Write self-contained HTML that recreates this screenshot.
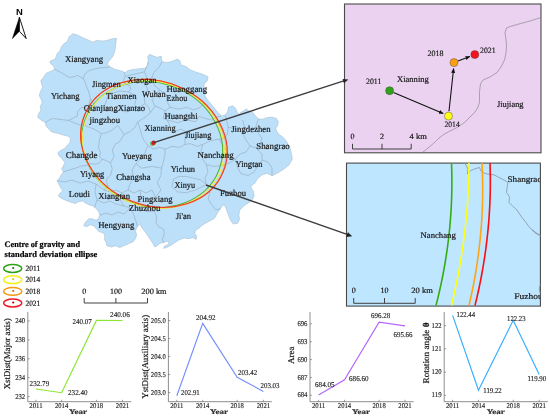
<!DOCTYPE html>
<html><head><meta charset="utf-8"><title>Centre of gravity and standard deviation ellipse</title>
<style>
html,body{margin:0;padding:0;background:#fff;}
svg{display:block;font-family:"Liberation Serif", serif;text-rendering:geometricPrecision;}
</style></head>
<body>
<svg width="550" height="416" viewBox="0 0 550 416">
<rect width="550" height="416" fill="#fff"/>
<polygon points="72.7,33.7 77.3,35 82.7,37.7 88.2,39.9 92.7,42.3 96.4,40.5 102.7,41 106.4,40.6 111.5,38.9 116.5,38.3 115.9,42.7 115.3,47.8 114.6,52.3 112.1,57.4 108.3,61.8 107.6,64.4 110.2,66.9 115.3,69.4 120.4,70.7 125.4,72.6 127.4,70.7 133.1,69.4 139.4,68.8 144.5,68.2 147.7,66.3 148.3,61.8 147.7,56.7 149.6,54.2 153.4,56.1 157.3,57.4 161.1,56.1 161.7,59.9 162.3,61.8 166.2,62.4 170.9,61.8 177.3,59.1 180,60.9 180.9,65.5 182.3,65.2 186.3,66.7 190.2,69.8 194.1,71.4 198.8,73 203.4,74.5 208.1,76.9 207.3,80.8 204.2,83.9 203.4,88.6 205.8,91.7 205,95.6 207.3,99.5 210.5,103.4 213.6,107.3 217.5,112 221.4,115.9 225.3,115.2 227.7,111.3 228.4,107.3 232.3,105.8 235.5,108.1 237,112 238.5,114.5 240.5,112.4 243.9,110.7 246.5,108.8 248.4,110.7 252.8,112.6 255.4,115.8 258.5,119 262.4,119.2 266.8,117.7 271.9,117.1 276.3,118.4 278.3,121.5 277.6,125.4 275.7,128.5 277,131.7 279.5,134.9 283.3,137.4 285.9,140.6 288.4,144.4 290.3,148.9 291.6,154.5 292.3,159 289,164.9 283,169.7 277,173.3 272,175.7 267.3,173.3 263,174.5 261.2,175.5 257.3,178.8 254.8,183.3 251.6,185.2 251,187.7 253.5,191.5 254.2,196 252.3,199.8 249.1,202.4 245.3,204.9 242.1,207.4 239.5,210.6 238.9,215.1 239.5,219.5 237.6,223.3 233.2,224 230.6,220.2 228.7,215.7 226.8,210.6 224.9,205.5 223,204.9 220.4,208.7 217.3,213.2 214.5,218.2 209.1,221.3 205,223.4 201.2,226 198.6,228.5 195.4,230.4 194.8,233.6 196.7,236.2 196.1,239.4 192.9,237.4 189.1,238.7 184,238.1 178.9,240 175.1,242.5 171.3,245.1 166.8,247.6 163.6,248.3 164.3,246.3 167.4,245.1 169.4,242.5 167.4,241.3 163.6,242.5 159.8,243.2 157.3,245.7 154.7,247 152.8,243.2 150.3,239.4 147.7,235.5 144.5,231.1 143,229 141.8,227.9 140.5,224.1 137.3,226.6 135.4,231.1 136.7,234.9 135.4,238.7 132.9,241.9 128.4,243.8 124,245.7 119.5,247.6 115.7,245.7 111.3,247 106.8,245.7 106.2,242.5 104.3,239.4 104.9,236.2 103.6,233 99.2,231.7 96.6,229.2 94.1,226 90.3,224.7 87.1,226.6 83.9,226 84.5,223.4 87.1,220.3 89.6,218.4 92.8,219 96,220.3 98.5,218.4 99.8,215.2 98.5,211.4 96,208.2 92.8,205.8 90.8,205.4 86.3,203.5 82.5,201 78.7,201.6 75.5,203.5 71.1,202.3 66,200.4 61.5,198.4 58.4,195.9 59.6,193.4 62.8,190.8 60.9,188.3 59,184.5 57.1,180.5 59.1,178.9 61,175.1 63.5,171.9 61.6,168.7 63.5,165.5 64.8,162.4 62.3,159.2 59.1,156 57.8,152.8 61,150.3 64.8,148.4 67.4,145.2 69.9,142.6 70.5,138.8 68.3,136.3 63.2,135.1 57.4,133.2 51.7,131.9 48.5,128.7 46,126.2 45.4,122.4 41.5,120.4 37.7,117.3 38.4,114.1 40.9,110.3 40.3,106.5 42.2,102.6 40.9,98.8 39,95 39.5,94.5 40.8,90.7 42.7,86.9 41.5,83.7 40.8,80.5 43.4,77.4 45.9,73.5 48.4,72.3 51.6,71 54.8,69.1 53.5,65.9 51,64 49.7,61.5 52.3,60.2 55.4,58.9 56.1,56.4 57.4,53.2 60.5,50 61,47.5 63.6,44.1 67.3,41.4 69.1,36.8" fill="#bce0fa" stroke="#9fb4c6" stroke-width="0.5" stroke-linejoin="round"/>
<polyline points="54.8,69.1 58,71 61.8,72.9 65.6,75.4 69.4,77.4 73.9,76.7 77.7,75.4 80.9,77.4 83.4,78.6" fill="none" stroke="#8d9dad" stroke-width="0.5" stroke-linejoin="round"/>
<polyline points="83.4,78.6 85.3,83.1 87.3,88.2 89.2,93.3 90.5,99 88.9,104.5 85.5,107" fill="none" stroke="#8d9dad" stroke-width="0.5" stroke-linejoin="round"/>
<polyline points="83.4,78.6 84.7,74.2 88.5,71 93.6,69.1 100,67.8 105.4,67.6 110.2,66.9" fill="none" stroke="#8d9dad" stroke-width="0.5" stroke-linejoin="round"/>
<polyline points="45.4,122.4 48.5,120.4 52.4,118.5 58.1,119.2 63.2,119.8 68.3,120.4 72.7,118.5 77.2,116 77.8,111.5 81,107.7 85.5,107" fill="none" stroke="#8d9dad" stroke-width="0.5" stroke-linejoin="round"/>
<polyline points="68.3,120.4 73.3,122.4 79.7,124.9 85,125.5 94.1,129.1 101.4,133.6" fill="none" stroke="#8d9dad" stroke-width="0.5" stroke-linejoin="round"/>
<polyline points="101.4,133.6 106.8,132.7 112.3,130 117.7,125.5 120.5,129.1 124.1,134.5 129.5,131.8 135,127.3 137.7,121.8 145,117.3 150.5,112.7 148.6,107.3 145,103.6" fill="none" stroke="#8d9dad" stroke-width="0.5" stroke-linejoin="round"/>
<polyline points="101.4,133.6 99.5,140 98.6,147.3 100.5,152.7 99.5,157 102.3,159.2" fill="none" stroke="#8d9dad" stroke-width="0.5" stroke-linejoin="round"/>
<polyline points="63.5,171.9 69.3,170 75.6,168.1 80.7,166.2 85.8,165.5 90.9,163.6 96,164.3 99.8,162.4 102.3,159.2" fill="none" stroke="#8d9dad" stroke-width="0.5" stroke-linejoin="round"/>
<polyline points="124.1,134.5 119.5,141.8 115,144.5 112.3,150 114.1,156.4 110.5,162.7 112.3,169.1 110.5,175 106,180 108,186 104,190" fill="none" stroke="#8d9dad" stroke-width="0.5" stroke-linejoin="round"/>
<polyline points="102.3,159.2 106,160.5 110.5,162.7" fill="none" stroke="#8d9dad" stroke-width="0.5" stroke-linejoin="round"/>
<polyline points="123.9,72.7 125.2,76.5 123.3,80.4 124.5,83.5 129.6,85.4 130.9,89.3 128.3,91.8 133.4,94.4 136,99.4 134.7,104.5 138,108 145,103.6" fill="none" stroke="#8d9dad" stroke-width="0.5" stroke-linejoin="round"/>
<polyline points="128.3,91.8 120,91 113,93 108.6,92.4 107.4,96.9 106.1,102 104.2,105.8 100,108 95,106 90.5,99" fill="none" stroke="#8d9dad" stroke-width="0.5" stroke-linejoin="round"/>
<polyline points="104.2,105.8 108,110 114,112 120,110 126,112 132,110 138,108" fill="none" stroke="#8d9dad" stroke-width="0.5" stroke-linejoin="round"/>
<polyline points="148.3,61.8 146.4,67.3 144.5,71.8 137.3,73.6 128.2,75.5 125.2,76.5" fill="none" stroke="#8d9dad" stroke-width="0.5" stroke-linejoin="round"/>
<polyline points="161.8,61.8 159.1,67.3 153.6,72.7 151.8,78.2 154.5,85.5 160,90 166.4,94.5 167.3,101.8 170,107.3 179.1,109.1 186.4,107.3 193.6,110 199,108 204,104" fill="none" stroke="#8d9dad" stroke-width="0.5" stroke-linejoin="round"/>
<polyline points="144.5,71.8 147,78 145,84 148,90 144,96 145,103.6" fill="none" stroke="#8d9dad" stroke-width="0.5" stroke-linejoin="round"/>
<polyline points="160,90 155,94 152,100 155,106 150.5,112.7" fill="none" stroke="#8d9dad" stroke-width="0.5" stroke-linejoin="round"/>
<polyline points="155,106 160,108 165,110.9 170,107.3" fill="none" stroke="#8d9dad" stroke-width="0.5" stroke-linejoin="round"/>
<polyline points="165,110.9 163.2,118.2 167.3,120 177.3,122.7 186.4,120 195.5,121.8 199.1,116.4 204.5,118.2 211.8,120 217,117 221.4,115.9" fill="none" stroke="#8d9dad" stroke-width="0.5" stroke-linejoin="round"/>
<polyline points="167.3,120 170,126 175.9,130.9 181.4,129.1 186,132 185,138 185,144.5" fill="none" stroke="#8d9dad" stroke-width="0.5" stroke-linejoin="round"/>
<polyline points="137.7,121.8 139.5,127.3 141.4,133.6 143.2,139.1 147.7,145.5 153.2,149.1 159.5,147.3 165,149.1 172.3,146.4 179.5,147.3 185,144.5" fill="none" stroke="#8d9dad" stroke-width="0.5" stroke-linejoin="round"/>
<polyline points="147.7,145.5 145,152.7 139.5,160 135.9,163.6 141.4,168.2 152.3,166.4 161.4,168.2 163.2,162.7 165,154.5 165,149.1" fill="none" stroke="#8d9dad" stroke-width="0.5" stroke-linejoin="round"/>
<polyline points="185,144.5 190,143.6 197.3,146.4 202.7,144.5 210,140.9 219.1,139.1 222.7,144.5 226,150 230,156 235.5,159.1" fill="none" stroke="#8d9dad" stroke-width="0.5" stroke-linejoin="round"/>
<polyline points="226.4,120 228.2,127.3 227.3,135 223,139 219.1,139.1" fill="none" stroke="#8d9dad" stroke-width="0.5" stroke-linejoin="round"/>
<polyline points="226.4,120 225.3,115.2" fill="none" stroke="#8d9dad" stroke-width="0.5" stroke-linejoin="round"/>
<polyline points="202.7,144.5 200.9,151.8 202.7,159.1 206.4,164.5 213.6,166.4 222.7,165.5 230,162.7 235.5,159.1" fill="none" stroke="#8d9dad" stroke-width="0.5" stroke-linejoin="round"/>
<polyline points="161.4,168.2 160.9,175.5 157.3,182.7 160.9,190 155.5,197.3 152,202 154.1,210.7 156.6,216.5 156,222.8 158.5,226.6 163.6,229.2 164.3,234.3 162.4,239.4 163.6,242.5" fill="none" stroke="#8d9dad" stroke-width="0.5" stroke-linejoin="round"/>
<polyline points="173.6,179.1 179.1,176.4 186.4,176.4 193.6,178.2 200.9,180 206.4,184.5 202.7,186.4 195.5,190 186.4,192.7 177.3,191.8 171.8,186.4 173.6,179.1" fill="none" stroke="#8d9dad" stroke-width="0.5" stroke-linejoin="round"/>
<polyline points="206.4,164.5 208,172 205,178 206.4,184.5" fill="none" stroke="#8d9dad" stroke-width="0.5" stroke-linejoin="round"/>
<polyline points="206.4,184.5 210,191.8 208.2,199.1 211.8,205 216,210 220.4,208.7" fill="none" stroke="#8d9dad" stroke-width="0.5" stroke-linejoin="round"/>
<polyline points="235.5,159.1 237.3,166.4 240.9,173.6 248.2,175.5 254,172 258,166 262,160 268,162 272,168 272,175.7" fill="none" stroke="#8d9dad" stroke-width="0.5" stroke-linejoin="round"/>
<polyline points="235.5,159.1 240,154 246,152 250,146 256,148 262,154 262,160" fill="none" stroke="#8d9dad" stroke-width="0.5" stroke-linejoin="round"/>
<polyline points="242.7,120 244.5,127.3 243,134 246,140 250,146" fill="none" stroke="#8d9dad" stroke-width="0.5" stroke-linejoin="round"/>
<polyline points="244.5,127.3 238,130 232,128 228.2,127.3" fill="none" stroke="#8d9dad" stroke-width="0.5" stroke-linejoin="round"/>
<polyline points="258.5,119 256,126 258,133 262,138 260,144 256,148" fill="none" stroke="#8d9dad" stroke-width="0.5" stroke-linejoin="round"/>
<polyline points="104,190 110,192 116,190 122,193 128,190 134,193 140,190 146,193 152,190 155.5,197.3" fill="none" stroke="#8d9dad" stroke-width="0.5" stroke-linejoin="round"/>
<polyline points="135.9,163.6 132,170 134,178 130,184 128,190" fill="none" stroke="#8d9dad" stroke-width="0.5" stroke-linejoin="round"/>
<polyline points="122,193 120,200 124,206 130,208 133,213 136.1,221.5 137.3,226.6" fill="none" stroke="#8d9dad" stroke-width="0.5" stroke-linejoin="round"/>
<polyline points="140,190 141,198 138,204 142,210 148,212 154.1,210.7" fill="none" stroke="#8d9dad" stroke-width="0.5" stroke-linejoin="round"/>
<polyline points="57.1,180.5 64,182 72,180 80,183 88,181 96,184 104,190" fill="none" stroke="#8d9dad" stroke-width="0.5" stroke-linejoin="round"/>
<polyline points="96,184 95,192 97,200 94.6,207.4" fill="none" stroke="#8d9dad" stroke-width="0.5" stroke-linejoin="round"/>
<polyline points="97,200 104,203 110,201 116,204 124,206" fill="none" stroke="#8d9dad" stroke-width="0.5" stroke-linejoin="round"/>
<polyline points="99.8,215.2 106,213 112,215 118,212 124,214 130,208" fill="none" stroke="#8d9dad" stroke-width="0.5" stroke-linejoin="round"/>
<ellipse cx="152.14" cy="144.42" rx="71.5" ry="61.53" transform="rotate(20.6 152.14 144.42)" fill="none" stroke="#4fb534" stroke-width="1.05"/>
<ellipse cx="153.4" cy="144.6" rx="71.9" ry="62.3" transform="rotate(21.0 153.4 144.6)" fill="none" stroke="#f1ee48" stroke-width="1.05"/>
<ellipse cx="153.54" cy="143.48" rx="74.7" ry="62.0" transform="rotate(23.5 153.54 143.48)" fill="none" stroke="#f7a632" stroke-width="1.05"/>
<ellipse cx="153.98" cy="143.31" rx="74.9" ry="61.91" transform="rotate(22.15 153.98 143.31)" fill="none" stroke="#ee382b" stroke-width="1.05"/>
<circle cx="152.3" cy="143.7" r="2.1" fill="#2fa316"/>
<circle cx="152.9" cy="143.5" r="2.0" fill="#f59a12"/>
<circle cx="153.6" cy="142.8" r="2.0" fill="#e8141c" stroke="#8a1010" stroke-width="0.4"/>
<text x="65" y="62.1" font-size="8.9" textLength="38.1" lengthAdjust="spacingAndGlyphs" fill="#1a1a1a" stroke="#1a1a1a" stroke-width="0.2">Xiangyang</text>
<text x="92" y="86.8" font-size="8.9" textLength="28.6" lengthAdjust="spacingAndGlyphs" fill="#1a1a1a" stroke="#1a1a1a" stroke-width="0.2">Jingmen</text>
<text x="51" y="99.3" font-size="8.9" textLength="28.6" lengthAdjust="spacingAndGlyphs" fill="#1a1a1a" stroke="#1a1a1a" stroke-width="0.2">Yichang</text>
<text x="106" y="99.3" font-size="8.9" textLength="30.6" lengthAdjust="spacingAndGlyphs" fill="#1a1a1a" stroke="#1a1a1a" stroke-width="0.2">Tianmen</text>
<text x="127.5" y="83.3" font-size="8.9" textLength="29.1" lengthAdjust="spacingAndGlyphs" fill="#1a1a1a" stroke="#1a1a1a" stroke-width="0.2">Xiaogan</text>
<text x="142" y="96.6" font-size="8.9" textLength="23.6" lengthAdjust="spacingAndGlyphs" fill="#1a1a1a" stroke="#1a1a1a" stroke-width="0.2">Wuhan</text>
<text x="166.5" y="91.5" font-size="8.9" textLength="40.6" lengthAdjust="spacingAndGlyphs" fill="#1a1a1a" stroke="#1a1a1a" stroke-width="0.2">Huanggang</text>
<text x="166.5" y="101.1" font-size="8.9" textLength="20.8" lengthAdjust="spacingAndGlyphs" fill="#1a1a1a" stroke="#1a1a1a" stroke-width="0.2">Ezhou</text>
<text x="83.7" y="110.8" font-size="8.9" textLength="61.4" lengthAdjust="spacingAndGlyphs" fill="#1a1a1a" stroke="#1a1a1a" stroke-width="0.2">QianjiangXiantao</text>
<text x="89.5" y="122.8" font-size="8.9" textLength="30.6" lengthAdjust="spacingAndGlyphs" fill="#1a1a1a" stroke="#1a1a1a" stroke-width="0.2">jingzhou</text>
<text x="164.5" y="119.0" font-size="8.9" textLength="33.1" lengthAdjust="spacingAndGlyphs" fill="#1a1a1a" stroke="#1a1a1a" stroke-width="0.2">Huangshi</text>
<text x="144.5" y="131.3" font-size="8.9" textLength="31.1" lengthAdjust="spacingAndGlyphs" fill="#1a1a1a" stroke="#1a1a1a" stroke-width="0.2">Xianning</text>
<text x="185" y="137.8" font-size="8.9" textLength="26.3" lengthAdjust="spacingAndGlyphs" fill="#1a1a1a" stroke="#1a1a1a" stroke-width="0.2">Jiujiang</text>
<text x="122" y="159.0" font-size="8.9" textLength="29.8" lengthAdjust="spacingAndGlyphs" fill="#1a1a1a" stroke="#1a1a1a" stroke-width="0.2">Yueyang</text>
<text x="197.5" y="157.8" font-size="8.9" textLength="36.1" lengthAdjust="spacingAndGlyphs" fill="#1a1a1a" stroke="#1a1a1a" stroke-width="0.2">Nanchang</text>
<text x="170.7" y="172.0" font-size="8.9" textLength="24.4" lengthAdjust="spacingAndGlyphs" fill="#1a1a1a" stroke="#1a1a1a" stroke-width="0.2">Yichun</text>
<text x="116.2" y="179.5" font-size="8.9" textLength="34.4" lengthAdjust="spacingAndGlyphs" fill="#1a1a1a" stroke="#1a1a1a" stroke-width="0.2">Changsha</text>
<text x="174.5" y="187.8" font-size="8.9" textLength="20.6" lengthAdjust="spacingAndGlyphs" fill="#1a1a1a" stroke="#1a1a1a" stroke-width="0.2">Xinyu</text>
<text x="65.7" y="157.8" font-size="8.9" textLength="31.9" lengthAdjust="spacingAndGlyphs" fill="#1a1a1a" stroke="#1a1a1a" stroke-width="0.2">Changde</text>
<text x="80" y="176.5" font-size="8.9" textLength="24.3" lengthAdjust="spacingAndGlyphs" fill="#1a1a1a" stroke="#1a1a1a" stroke-width="0.2">Yiyang</text>
<text x="68.7" y="196.6" font-size="8.9" textLength="21.4" lengthAdjust="spacingAndGlyphs" fill="#1a1a1a" stroke="#1a1a1a" stroke-width="0.2">Loudi</text>
<text x="98.2" y="199.0" font-size="8.9" textLength="31.9" lengthAdjust="spacingAndGlyphs" fill="#1a1a1a" stroke="#1a1a1a" stroke-width="0.2">Xiangtan</text>
<text x="137.5" y="202.0" font-size="8.9" textLength="35.1" lengthAdjust="spacingAndGlyphs" fill="#1a1a1a" stroke="#1a1a1a" stroke-width="0.2">Pingxiang</text>
<text x="128.7" y="211.3" font-size="8.9" textLength="31.9" lengthAdjust="spacingAndGlyphs" fill="#1a1a1a" stroke="#1a1a1a" stroke-width="0.2">Zhuzhou</text>
<text x="98.2" y="227.8" font-size="8.9" textLength="36.1" lengthAdjust="spacingAndGlyphs" fill="#1a1a1a" stroke="#1a1a1a" stroke-width="0.2">Hengyang</text>
<text x="175.7" y="218.8" font-size="8.9" textLength="15.4" lengthAdjust="spacingAndGlyphs" fill="#1a1a1a" stroke="#1a1a1a" stroke-width="0.2">Ji'an</text>
<text x="231.2" y="132.0" font-size="8.9" textLength="39.4" lengthAdjust="spacingAndGlyphs" fill="#1a1a1a" stroke="#1a1a1a" stroke-width="0.2">Jingdezhen</text>
<text x="256.2" y="148.8" font-size="8.9" textLength="33.6" lengthAdjust="spacingAndGlyphs" fill="#1a1a1a" stroke="#1a1a1a" stroke-width="0.2">Shangrao</text>
<text x="235.5" y="167.1" font-size="8.9" textLength="27.1" lengthAdjust="spacingAndGlyphs" fill="#1a1a1a" stroke="#1a1a1a" stroke-width="0.2">Yingtan</text>
<text x="220" y="195.8" font-size="8.9" textLength="26.1" lengthAdjust="spacingAndGlyphs" fill="#1a1a1a" stroke="#1a1a1a" stroke-width="0.2">Fuzhou</text>
<text x="16.1" y="14.5" font-family="'Liberation Sans', sans-serif" font-size="8.8" font-weight="bold" textLength="6.8" lengthAdjust="spacingAndGlyphs" fill="#000">N</text>
<polygon points="19.4,17.3 12.4,38.6 19.4,31.2" fill="#000" stroke="#000" stroke-width="0.5" stroke-linejoin="miter"/>
<polygon points="19.4,17.3 26.2,38.6 19.4,31.2" fill="#fff" stroke="#000" stroke-width="0.9" stroke-linejoin="miter"/>
<text x="4.6" y="247" font-size="8.5" font-weight="bold" textLength="75.4" lengthAdjust="spacingAndGlyphs" fill="#000" stroke="#000" stroke-width="0.2">Centre of gravity and</text>
<text x="4.6" y="257" font-size="8.5" font-weight="bold" textLength="92.6" lengthAdjust="spacingAndGlyphs" fill="#000" stroke="#000" stroke-width="0.2">standard deviation ellipse</text>
<ellipse cx="12.7" cy="268.5" rx="9.1" ry="3.9" fill="none" stroke="#2fa316" stroke-width="1.5"/>
<circle cx="13.2" cy="268.0" r="1.1" fill="#167a0c"/>
<text x="25.5" y="271.2" font-size="8" textLength="14.6" lengthAdjust="spacingAndGlyphs" fill="#1a1a1a" stroke="#1a1a1a" stroke-width="0.2">2011</text>
<ellipse cx="12.7" cy="279.7" rx="9.1" ry="3.9" fill="none" stroke="#f4f01a" stroke-width="1.5"/>
<circle cx="13.2" cy="279.2" r="1.1" fill="#ddd020"/>
<text x="25.5" y="282.4" font-size="8" textLength="14.6" lengthAdjust="spacingAndGlyphs" fill="#1a1a1a" stroke="#1a1a1a" stroke-width="0.2">2014</text>
<ellipse cx="12.7" cy="291.4" rx="9.1" ry="3.9" fill="none" stroke="#f59a12" stroke-width="1.5"/>
<circle cx="13.2" cy="290.9" r="1.1" fill="#e07c00"/>
<text x="25.5" y="294.09999999999997" font-size="8" textLength="14.6" lengthAdjust="spacingAndGlyphs" fill="#1a1a1a" stroke="#1a1a1a" stroke-width="0.2">2018</text>
<ellipse cx="12.7" cy="303.0" rx="9.1" ry="3.9" fill="none" stroke="#ee1c25" stroke-width="1.5"/>
<circle cx="13.2" cy="302.5" r="1.1" fill="#b80008"/>
<text x="25.5" y="305.7" font-size="8" textLength="14.6" lengthAdjust="spacingAndGlyphs" fill="#1a1a1a" stroke="#1a1a1a" stroke-width="0.2">2021</text>
<path d="M84.2,298 V303 H147.5 V298 M115.9,298 V303" fill="none" stroke="#383838" stroke-width="0.95"/>
<text x="84.2" y="293.5" font-size="8" text-anchor="middle" fill="#1a1a1a" stroke="#1a1a1a" stroke-width="0.2">0</text>
<text x="115.9" y="293.5" font-size="8" text-anchor="middle" fill="#1a1a1a" stroke="#1a1a1a" stroke-width="0.2">100</text>
<text x="141.3" y="293.5" font-size="8" textLength="25.3" lengthAdjust="spacingAndGlyphs" fill="#1a1a1a" stroke="#1a1a1a" stroke-width="0.2">200 km</text>
<rect x="344.5" y="4" width="196.5" height="148.8" fill="#ead2f0" stroke="#4a4a4a" stroke-width="1.1"/>
<polyline points="541,17.5 530,21 519,24 510,26.5 506.5,28 505,32.5 506,40 506.5,45 506,53 504.5,60 501,67 497,72.5 490,77 483,80 480.5,84 480,87.5 479.5,92.5 479.5,102.5 477.5,108 474.5,112.5 469,118 464.5,122.5 457,127.5 450,131 444.5,134 439,138 434.5,142.5 428,148 423,152" fill="none" stroke="#7d7d7d" stroke-width="0.6"/>
<defs><marker id="ah" markerWidth="6" markerHeight="6" refX="4.3" refY="3" orient="auto" markerUnits="userSpaceOnUse"><path d="M0,1 L4.8,3 L0,5 Z" fill="#111"/></marker><marker id="ah2" markerWidth="7" markerHeight="7" refX="6" refY="3.5" orient="auto" markerUnits="userSpaceOnUse"><path d="M0,0.8 L6.5,3.5 L0,6.2 Z" fill="#222"/></marker></defs>
<line x1="393.5" y1="92.6" x2="443.2" y2="113.6" stroke="#111" stroke-width="1.05" marker-end="url(#ah)"/>
<line x1="449" y1="111.1" x2="453.6" y2="68.6" stroke="#111" stroke-width="1.05" marker-end="url(#ah)"/>
<line x1="458" y1="61.1" x2="469.8" y2="56.5" stroke="#111" stroke-width="1.05" marker-end="url(#ah)"/>
<circle cx="389.6" cy="90.7" r="4" fill="#2fa316" stroke="#444" stroke-width="0.45"/>
<circle cx="448.5" cy="116.1" r="4" fill="#ffff1a" stroke="#444" stroke-width="0.45"/>
<circle cx="454" cy="62.6" r="4" fill="#ff9f0f" stroke="#444" stroke-width="0.45"/>
<circle cx="474.8" cy="54.6" r="4" fill="#f5141e" stroke="#444" stroke-width="0.45"/>
<text x="366" y="83.7" font-size="8.2" textLength="15.4" lengthAdjust="spacingAndGlyphs" fill="#1a1a1a" stroke="#1a1a1a" stroke-width="0.18">2011</text>
<text x="397" y="81.5" font-size="8.6" textLength="31.8" lengthAdjust="spacingAndGlyphs" fill="#1a1a1a" stroke="#1a1a1a" stroke-width="0.2">Xianning</text>
<text x="427.5" y="55.7" font-size="8.2" textLength="16" lengthAdjust="spacingAndGlyphs" fill="#1a1a1a" stroke="#1a1a1a" stroke-width="0.18">2018</text>
<text x="480" y="52.8" font-size="8.2" textLength="15.6" lengthAdjust="spacingAndGlyphs" fill="#1a1a1a" stroke="#1a1a1a" stroke-width="0.18">2021</text>
<text x="444.5" y="126.6" font-size="8.2" textLength="15.2" lengthAdjust="spacingAndGlyphs" fill="#1a1a1a" stroke="#1a1a1a" stroke-width="0.18">2014</text>
<text x="497" y="106.5" font-size="8.6" textLength="26.5" lengthAdjust="spacingAndGlyphs" fill="#1a1a1a" stroke="#1a1a1a" stroke-width="0.2">Jiujiang</text>
<path d="M352.5,143.8 V149 H411.2 V143.8 M382,143.8 V149" fill="none" stroke="#383838" stroke-width="0.95"/>
<text x="352.5" y="139.2" font-size="8" text-anchor="middle" fill="#1a1a1a" stroke="#1a1a1a" stroke-width="0.2">0</text>
<text x="382" y="139.2" font-size="8" text-anchor="middle" fill="#1a1a1a" stroke="#1a1a1a" stroke-width="0.2">2</text>
<text x="409.6" y="139.2" font-size="8" textLength="17.3" lengthAdjust="spacingAndGlyphs" fill="#1a1a1a" stroke="#1a1a1a" stroke-width="0.2">4 km</text>
<rect x="346.5" y="163.1" width="193.9" height="143" fill="#bfe6ff" stroke="#4a4a4a" stroke-width="1.1"/>
<polyline points="464.5,163 466.5,166 468,169 467.5,174 469.5,171.5 472,170 476,168.5 479.5,167.5 481,171 484,173 487,174 491,174.5 494.5,175 498,177 502,179 505,180.5 508,182.5 507,188 506.5,192.5 508.5,195 509.5,197.5 509,202.5 513,206.5 517,210 519.5,214 522,217.5 526,222.5 529.5,227.5 535,232 541,236" fill="none" stroke="#79838c" stroke-width="0.65"/>
<polyline points="532,230 536,233.5 541,236" fill="none" stroke="#79838c" stroke-width="0.65"/>
<path d="M541,284 Q537.5,289 541,294" fill="none" stroke="#79838c" stroke-width="0.65"/>
<polyline points="451.5,163.0 451.73,170.12 451.86,177.25 451.88,184.38 451.8,191.5 451.6,198.62 451.31,205.75 450.9,212.88 450.39,220.0 449.78,227.12 449.06,234.25 448.23,241.38 447.29,248.5 446.25,255.62 445.11,262.75 443.85,269.88 442.5,277.0 441.03,284.12 439.46,291.25 437.78,298.38 436.0,305.5" fill="none" stroke="#35ad12" stroke-width="1.6"/>
<polyline points="469.0,163.0 468.93,170.12 468.78,177.25 468.54,184.38 468.22,191.5 467.81,198.62 467.31,205.75 466.74,212.88 466.07,220.0 465.33,227.12 464.49,234.25 463.58,241.38 462.57,248.5 461.49,255.62 460.31,262.75 459.06,269.88 457.72,277.0 456.29,284.12 454.78,291.25 453.18,298.38 451.5,305.5" fill="none" stroke="#ffff14" stroke-width="1.6"/>
<polyline points="482.0,163.0 482.32,170.12 482.55,177.25 482.67,184.38 482.68,191.5 482.6,198.62 482.41,205.75 482.12,212.88 481.73,220.0 481.23,227.12 480.63,234.25 479.93,241.38 479.13,248.5 478.22,255.62 477.21,262.75 476.1,269.88 474.88,277.0 473.57,284.12 472.15,291.25 470.62,298.38 469.0,305.5" fill="none" stroke="#ffa414" stroke-width="1.6"/>
<polyline points="490.0,163.0 490.21,170.12 490.33,177.25 490.34,184.38 490.25,191.5 490.05,198.62 489.76,205.75 489.36,212.88 488.87,220.0 488.27,227.12 487.57,234.25 486.77,241.38 485.87,248.5 484.86,255.62 483.76,262.75 482.55,269.88 481.25,277.0 479.84,284.12 478.33,291.25 476.71,298.38 475.0,305.5" fill="none" stroke="#fb0d12" stroke-width="1.6"/>
<clipPath id="c2"><rect x="346.5" y="163.1" width="193.4" height="143"/></clipPath>
<text x="420.5" y="237.8" font-size="8.6" textLength="35.3" lengthAdjust="spacingAndGlyphs" fill="#1a1a1a" stroke="#1a1a1a" stroke-width="0.2">Nanchang</text>
<text x="507.5" y="182.4" font-size="8.6" textLength="34.5" lengthAdjust="spacingAndGlyphs" fill="#1a1a1a" stroke="#1a1a1a" stroke-width="0.2" clip-path="url(#c2)">Shangrao</text>
<text x="514.3" y="299.3" font-size="8.6" textLength="28.5" lengthAdjust="spacingAndGlyphs" fill="#1a1a1a" stroke="#1a1a1a" stroke-width="0.2" clip-path="url(#c2)">Fuzhou</text>
<path d="M353.7,298 V303.3 H415.2 V298 M384.5,298 V303.3" fill="none" stroke="#383838" stroke-width="0.95"/>
<text x="353.7" y="292.8" font-size="8" text-anchor="middle" fill="#1a1a1a" stroke="#1a1a1a" stroke-width="0.2">0</text>
<text x="384.5" y="292.8" font-size="8" text-anchor="middle" fill="#1a1a1a" stroke="#1a1a1a" stroke-width="0.2">10</text>
<text x="411.3" y="292.8" font-size="8" textLength="21.5" lengthAdjust="spacingAndGlyphs" fill="#1a1a1a" stroke="#1a1a1a" stroke-width="0.2">20 km</text>
<line x1="153.8" y1="142.6" x2="344.5" y2="80.7" stroke="#3c3c3c" stroke-width="1.35"/>
<line x1="206" y1="185" x2="348.5" y2="234.9" stroke="#3c3c3c" stroke-width="1.35"/>
<path d="M348.4,79.5 L342.6,78.9 L343.9,83.3 Z" fill="#222"/>
<path d="M352.2,236.3 L346.2,237.1 L347.9,232.3 Z" fill="#222"/>
<path d="M27.8,312.0 V401.7 H131.2" fill="none" stroke="#5e5e5e" stroke-width="0.7"/>
<line x1="27.8" y1="396.5" x2="29.7" y2="396.5" stroke="#5e5e5e" stroke-width="0.6"/>
<text x="15.2" y="398.65" font-size="7.4" textLength="10.0" lengthAdjust="spacingAndGlyphs" fill="#1a1a1a" stroke="#1a1a1a" stroke-width="0.14">232</text>
<line x1="27.8" y1="377.64" x2="29.7" y2="377.64" stroke="#5e5e5e" stroke-width="0.6"/>
<text x="15.2" y="379.79" font-size="7.4" textLength="10.0" lengthAdjust="spacingAndGlyphs" fill="#1a1a1a" stroke="#1a1a1a" stroke-width="0.14">234</text>
<line x1="27.8" y1="358.78" x2="29.7" y2="358.78" stroke="#5e5e5e" stroke-width="0.6"/>
<text x="15.2" y="360.93" font-size="7.4" textLength="10.0" lengthAdjust="spacingAndGlyphs" fill="#1a1a1a" stroke="#1a1a1a" stroke-width="0.14">236</text>
<line x1="27.8" y1="339.92" x2="29.7" y2="339.92" stroke="#5e5e5e" stroke-width="0.6"/>
<text x="15.2" y="342.07" font-size="7.4" textLength="10.0" lengthAdjust="spacingAndGlyphs" fill="#1a1a1a" stroke="#1a1a1a" stroke-width="0.14">238</text>
<line x1="27.8" y1="321.06" x2="29.7" y2="321.06" stroke="#5e5e5e" stroke-width="0.6"/>
<text x="15.2" y="323.21" font-size="7.4" textLength="10.0" lengthAdjust="spacingAndGlyphs" fill="#1a1a1a" stroke="#1a1a1a" stroke-width="0.14">240</text>
<line x1="35.9" y1="401.7" x2="35.9" y2="399.8" stroke="#5e5e5e" stroke-width="0.6"/>
<text x="29.25" y="408.3" font-size="7.4" textLength="13.3" lengthAdjust="spacingAndGlyphs" fill="#1a1a1a" stroke="#1a1a1a" stroke-width="0.14">2011</text>
<line x1="61.6" y1="401.7" x2="61.6" y2="399.8" stroke="#5e5e5e" stroke-width="0.6"/>
<text x="54.95" y="408.3" font-size="7.4" textLength="13.3" lengthAdjust="spacingAndGlyphs" fill="#1a1a1a" stroke="#1a1a1a" stroke-width="0.14">2014</text>
<line x1="96.4" y1="401.7" x2="96.4" y2="399.8" stroke="#5e5e5e" stroke-width="0.6"/>
<text x="89.75" y="408.3" font-size="7.4" textLength="13.3" lengthAdjust="spacingAndGlyphs" fill="#1a1a1a" stroke="#1a1a1a" stroke-width="0.14">2018</text>
<line x1="122.5" y1="401.7" x2="122.5" y2="399.8" stroke="#5e5e5e" stroke-width="0.6"/>
<text x="115.85" y="408.3" font-size="7.4" textLength="13.3" lengthAdjust="spacingAndGlyphs" fill="#1a1a1a" stroke="#1a1a1a" stroke-width="0.14">2021</text>
<text x="69" y="413.6" font-size="7.2" font-weight="bold" textLength="18" lengthAdjust="spacingAndGlyphs" fill="#333" stroke="#333" stroke-width="0.2">Year</text>
<polyline points="35.9,389.05 61.6,392.73 96.4,320.4 122.5,320.49" fill="none" stroke="#8ce62d" stroke-width="1.15" stroke-linejoin="miter"/>
<text x="29.6" y="385.8" font-size="7.5" textLength="19.6" lengthAdjust="spacingAndGlyphs" fill="#1a1a1a" stroke="#1a1a1a" stroke-width="0.14">232.79</text>
<text x="68.1" y="394.5" font-size="7.5" textLength="19.4" lengthAdjust="spacingAndGlyphs" fill="#1a1a1a" stroke="#1a1a1a" stroke-width="0.14">232.40</text>
<text x="72.6" y="324.0" font-size="7.5" textLength="19.1" lengthAdjust="spacingAndGlyphs" fill="#1a1a1a" stroke="#1a1a1a" stroke-width="0.14">240.07</text>
<text x="110.1" y="316.5" font-size="7.5" textLength="19.6" lengthAdjust="spacingAndGlyphs" fill="#1a1a1a" stroke="#1a1a1a" stroke-width="0.14">240.06</text>
<text transform="translate(10 353.8) rotate(-90)" font-size="8.9" text-anchor="middle" textLength="71" lengthAdjust="spacingAndGlyphs" fill="#1a1a1a" stroke="#1a1a1a" stroke-width="0.2">XstDist(Major axis)</text>
<path d="M168.4,312.0 V401.7 H271.8" fill="none" stroke="#5e5e5e" stroke-width="0.7"/>
<line x1="168.4" y1="392.5" x2="170.3" y2="392.5" stroke="#5e5e5e" stroke-width="0.6"/>
<text x="150.8" y="394.65" font-size="7.4" textLength="15.0" lengthAdjust="spacingAndGlyphs" fill="#1a1a1a" stroke="#1a1a1a" stroke-width="0.14">203.0</text>
<line x1="168.4" y1="374.5" x2="170.3" y2="374.5" stroke="#5e5e5e" stroke-width="0.6"/>
<text x="150.8" y="376.65" font-size="7.4" textLength="15.0" lengthAdjust="spacingAndGlyphs" fill="#1a1a1a" stroke="#1a1a1a" stroke-width="0.14">203.5</text>
<line x1="168.4" y1="356.5" x2="170.3" y2="356.5" stroke="#5e5e5e" stroke-width="0.6"/>
<text x="150.8" y="358.65" font-size="7.4" textLength="15.0" lengthAdjust="spacingAndGlyphs" fill="#1a1a1a" stroke="#1a1a1a" stroke-width="0.14">204.0</text>
<line x1="168.4" y1="338.5" x2="170.3" y2="338.5" stroke="#5e5e5e" stroke-width="0.6"/>
<text x="150.8" y="340.65" font-size="7.4" textLength="15.0" lengthAdjust="spacingAndGlyphs" fill="#1a1a1a" stroke="#1a1a1a" stroke-width="0.14">204.5</text>
<line x1="168.4" y1="320.5" x2="170.3" y2="320.5" stroke="#5e5e5e" stroke-width="0.6"/>
<text x="150.8" y="322.65" font-size="7.4" textLength="15.0" lengthAdjust="spacingAndGlyphs" fill="#1a1a1a" stroke="#1a1a1a" stroke-width="0.14">205.0</text>
<line x1="176.8" y1="401.7" x2="176.8" y2="399.8" stroke="#5e5e5e" stroke-width="0.6"/>
<text x="170.15" y="408.3" font-size="7.4" textLength="13.3" lengthAdjust="spacingAndGlyphs" fill="#1a1a1a" stroke="#1a1a1a" stroke-width="0.14">2011</text>
<line x1="202.7" y1="401.7" x2="202.7" y2="399.8" stroke="#5e5e5e" stroke-width="0.6"/>
<text x="196.05" y="408.3" font-size="7.4" textLength="13.3" lengthAdjust="spacingAndGlyphs" fill="#1a1a1a" stroke="#1a1a1a" stroke-width="0.14">2014</text>
<line x1="237.2" y1="401.7" x2="237.2" y2="399.8" stroke="#5e5e5e" stroke-width="0.6"/>
<text x="230.55" y="408.3" font-size="7.4" textLength="13.3" lengthAdjust="spacingAndGlyphs" fill="#1a1a1a" stroke="#1a1a1a" stroke-width="0.14">2018</text>
<line x1="263.4" y1="401.7" x2="263.4" y2="399.8" stroke="#5e5e5e" stroke-width="0.6"/>
<text x="256.75" y="408.3" font-size="7.4" textLength="13.3" lengthAdjust="spacingAndGlyphs" fill="#1a1a1a" stroke="#1a1a1a" stroke-width="0.14">2021</text>
<text x="210" y="413.6" font-size="7.2" font-weight="bold" textLength="18" lengthAdjust="spacingAndGlyphs" fill="#333" stroke="#333" stroke-width="0.2">Year</text>
<polyline points="176.8,395.74 202.7,323.38 237.2,377.38 263.4,391.42" fill="none" stroke="#758eff" stroke-width="1.15" stroke-linejoin="miter"/>
<text x="196.1" y="319.5" font-size="7.5" textLength="19.4" lengthAdjust="spacingAndGlyphs" fill="#1a1a1a" stroke="#1a1a1a" stroke-width="0.14">204.92</text>
<text x="181.1" y="394.5" font-size="7.5" textLength="18.6" lengthAdjust="spacingAndGlyphs" fill="#1a1a1a" stroke="#1a1a1a" stroke-width="0.14">202.91</text>
<text x="238.1" y="375.3" font-size="7.5" textLength="19.1" lengthAdjust="spacingAndGlyphs" fill="#1a1a1a" stroke="#1a1a1a" stroke-width="0.14">203.42</text>
<text x="260.6" y="387.8" font-size="7.5" textLength="18.9" lengthAdjust="spacingAndGlyphs" fill="#1a1a1a" stroke="#1a1a1a" stroke-width="0.14">203.03</text>
<text transform="translate(148 356.8) rotate(-90)" font-size="8.9" text-anchor="middle" textLength="84" lengthAdjust="spacingAndGlyphs" fill="#1a1a1a" stroke="#1a1a1a" stroke-width="0.2">YstDist(Auxiliary axis)</text>
<path d="M310.0,312.0 V401.7 H413.6" fill="none" stroke="#5e5e5e" stroke-width="0.7"/>
<line x1="310.0" y1="395.3" x2="311.9" y2="395.3" stroke="#5e5e5e" stroke-width="0.6"/>
<text x="297.4" y="397.45" font-size="7.4" textLength="10.0" lengthAdjust="spacingAndGlyphs" fill="#1a1a1a" stroke="#1a1a1a" stroke-width="0.14">684</text>
<line x1="310.0" y1="377.44" x2="311.9" y2="377.44" stroke="#5e5e5e" stroke-width="0.6"/>
<text x="297.4" y="379.59" font-size="7.4" textLength="10.0" lengthAdjust="spacingAndGlyphs" fill="#1a1a1a" stroke="#1a1a1a" stroke-width="0.14">687</text>
<line x1="310.0" y1="359.58" x2="311.9" y2="359.58" stroke="#5e5e5e" stroke-width="0.6"/>
<text x="297.4" y="361.73" font-size="7.4" textLength="10.0" lengthAdjust="spacingAndGlyphs" fill="#1a1a1a" stroke="#1a1a1a" stroke-width="0.14">690</text>
<line x1="310.0" y1="341.71" x2="311.9" y2="341.71" stroke="#5e5e5e" stroke-width="0.6"/>
<text x="297.4" y="343.86" font-size="7.4" textLength="10.0" lengthAdjust="spacingAndGlyphs" fill="#1a1a1a" stroke="#1a1a1a" stroke-width="0.14">693</text>
<line x1="310.0" y1="323.85" x2="311.9" y2="323.85" stroke="#5e5e5e" stroke-width="0.6"/>
<text x="297.4" y="326.0" font-size="7.4" textLength="10.0" lengthAdjust="spacingAndGlyphs" fill="#1a1a1a" stroke="#1a1a1a" stroke-width="0.14">696</text>
<line x1="318.6" y1="401.7" x2="318.6" y2="399.8" stroke="#5e5e5e" stroke-width="0.6"/>
<text x="311.95" y="408.3" font-size="7.4" textLength="13.3" lengthAdjust="spacingAndGlyphs" fill="#1a1a1a" stroke="#1a1a1a" stroke-width="0.14">2011</text>
<line x1="344.5" y1="401.7" x2="344.5" y2="399.8" stroke="#5e5e5e" stroke-width="0.6"/>
<text x="337.85" y="408.3" font-size="7.4" textLength="13.3" lengthAdjust="spacingAndGlyphs" fill="#1a1a1a" stroke="#1a1a1a" stroke-width="0.14">2014</text>
<line x1="379.1" y1="401.7" x2="379.1" y2="399.8" stroke="#5e5e5e" stroke-width="0.6"/>
<text x="372.45" y="408.3" font-size="7.4" textLength="13.3" lengthAdjust="spacingAndGlyphs" fill="#1a1a1a" stroke="#1a1a1a" stroke-width="0.14">2018</text>
<line x1="405" y1="401.7" x2="405" y2="399.8" stroke="#5e5e5e" stroke-width="0.6"/>
<text x="398.35" y="408.3" font-size="7.4" textLength="13.3" lengthAdjust="spacingAndGlyphs" fill="#1a1a1a" stroke="#1a1a1a" stroke-width="0.14">2021</text>
<text x="352" y="413.6" font-size="7.2" font-weight="bold" textLength="18" lengthAdjust="spacingAndGlyphs" fill="#333" stroke="#333" stroke-width="0.2">Year</text>
<polyline points="318.6,395.0 344.5,379.82 379.1,322.18 405,325.88" fill="none" stroke="#b266ff" stroke-width="1.15" stroke-linejoin="miter"/>
<text x="371.1" y="318.3" font-size="7.5" textLength="19.1" lengthAdjust="spacingAndGlyphs" fill="#1a1a1a" stroke="#1a1a1a" stroke-width="0.14">696.28</text>
<text x="393.6" y="336.5" font-size="7.5" textLength="18.9" lengthAdjust="spacingAndGlyphs" fill="#1a1a1a" stroke="#1a1a1a" stroke-width="0.14">695.66</text>
<text x="349.1" y="380.8" font-size="7.5" textLength="19.4" lengthAdjust="spacingAndGlyphs" fill="#1a1a1a" stroke="#1a1a1a" stroke-width="0.14">686.60</text>
<text x="315.1" y="386.8" font-size="7.5" textLength="19.4" lengthAdjust="spacingAndGlyphs" fill="#1a1a1a" stroke="#1a1a1a" stroke-width="0.14">684.05</text>
<text transform="translate(294 355.3) rotate(-90)" font-size="8.9" text-anchor="middle" textLength="17.5" lengthAdjust="spacingAndGlyphs" fill="#1a1a1a" stroke="#1a1a1a" stroke-width="0.2">Area</text>
<path d="M444.2,312.0 V401.7 H547.8" fill="none" stroke="#5e5e5e" stroke-width="0.7"/>
<line x1="444.2" y1="395.3" x2="446.09999999999997" y2="395.3" stroke="#5e5e5e" stroke-width="0.6"/>
<text x="431.6" y="397.45" font-size="7.4" textLength="10.0" lengthAdjust="spacingAndGlyphs" fill="#1a1a1a" stroke="#1a1a1a" stroke-width="0.14">119</text>
<line x1="444.2" y1="372.07" x2="446.09999999999997" y2="372.07" stroke="#5e5e5e" stroke-width="0.6"/>
<text x="431.6" y="374.22" font-size="7.4" textLength="10.0" lengthAdjust="spacingAndGlyphs" fill="#1a1a1a" stroke="#1a1a1a" stroke-width="0.14">120</text>
<line x1="444.2" y1="348.84" x2="446.09999999999997" y2="348.84" stroke="#5e5e5e" stroke-width="0.6"/>
<text x="431.6" y="350.99" font-size="7.4" textLength="10.0" lengthAdjust="spacingAndGlyphs" fill="#1a1a1a" stroke="#1a1a1a" stroke-width="0.14">121</text>
<line x1="444.2" y1="325.61" x2="446.09999999999997" y2="325.61" stroke="#5e5e5e" stroke-width="0.6"/>
<text x="431.6" y="327.76" font-size="7.4" textLength="10.0" lengthAdjust="spacingAndGlyphs" fill="#1a1a1a" stroke="#1a1a1a" stroke-width="0.14">122</text>
<line x1="452.6" y1="401.7" x2="452.6" y2="399.8" stroke="#5e5e5e" stroke-width="0.6"/>
<text x="445.95" y="408.3" font-size="7.4" textLength="13.3" lengthAdjust="spacingAndGlyphs" fill="#1a1a1a" stroke="#1a1a1a" stroke-width="0.14">2011</text>
<line x1="478.5" y1="401.7" x2="478.5" y2="399.8" stroke="#5e5e5e" stroke-width="0.6"/>
<text x="471.85" y="408.3" font-size="7.4" textLength="13.3" lengthAdjust="spacingAndGlyphs" fill="#1a1a1a" stroke="#1a1a1a" stroke-width="0.14">2014</text>
<line x1="513.2" y1="401.7" x2="513.2" y2="399.8" stroke="#5e5e5e" stroke-width="0.6"/>
<text x="506.55" y="408.3" font-size="7.4" textLength="13.3" lengthAdjust="spacingAndGlyphs" fill="#1a1a1a" stroke="#1a1a1a" stroke-width="0.14">2018</text>
<line x1="539.2" y1="401.7" x2="539.2" y2="399.8" stroke="#5e5e5e" stroke-width="0.6"/>
<text x="532.55" y="408.3" font-size="7.4" textLength="13.3" lengthAdjust="spacingAndGlyphs" fill="#1a1a1a" stroke="#1a1a1a" stroke-width="0.14">2021</text>
<text x="486.7" y="413.6" font-size="7.2" font-weight="bold" textLength="18" lengthAdjust="spacingAndGlyphs" fill="#333" stroke="#333" stroke-width="0.2">Year</text>
<polyline points="452.6,315.39 478.5,390.19 513.2,320.27 539.2,374.39" fill="none" stroke="#33adff" stroke-width="1.15" stroke-linejoin="miter"/>
<text x="456.6" y="317.3" font-size="7.5" textLength="18.4" lengthAdjust="spacingAndGlyphs" fill="#1a1a1a" stroke="#1a1a1a" stroke-width="0.14">122.44</text>
<text x="507.1" y="321.0" font-size="7.5" textLength="18.4" lengthAdjust="spacingAndGlyphs" fill="#1a1a1a" stroke="#1a1a1a" stroke-width="0.14">122.23</text>
<text x="483.3" y="392.8" font-size="7.5" textLength="18.4" lengthAdjust="spacingAndGlyphs" fill="#1a1a1a" stroke="#1a1a1a" stroke-width="0.14">119.22</text>
<text x="527.6" y="380.8" font-size="7.5" textLength="18.6" lengthAdjust="spacingAndGlyphs" fill="#1a1a1a" stroke="#1a1a1a" stroke-width="0.14">119.90</text>
<text transform="translate(429 353.0) rotate(-90)" font-size="8.9" text-anchor="middle" textLength="61" lengthAdjust="spacingAndGlyphs" fill="#1a1a1a" stroke="#1a1a1a" stroke-width="0.2">Rotation angle <tspan font-weight="bold">θ</tspan></text>
</svg>
</body></html>
